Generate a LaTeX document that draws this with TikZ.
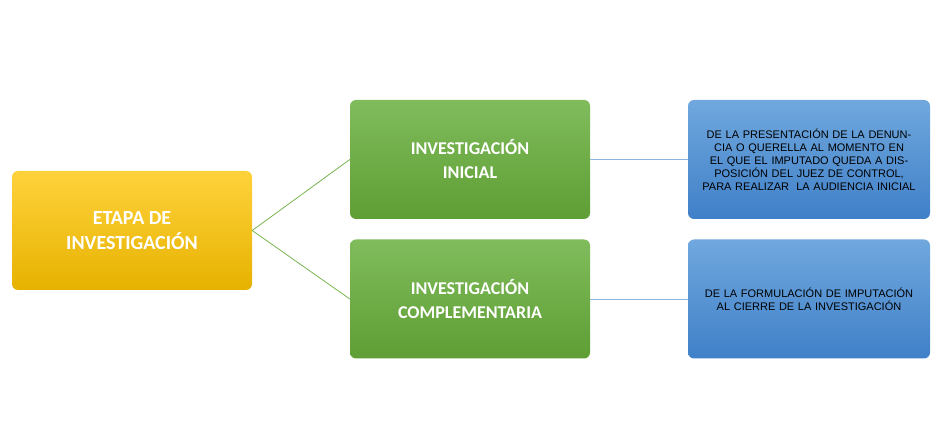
\documentclass[tikz,border=0pt]{standalone}
\usepackage{fontspec}
\setmainfont{Carlito}
\newfontfamily\arialf{Liberation Sans}
\definecolor{yt}{RGB}{255,210,60}
\definecolor{yb}{RGB}{230,178,0}
\definecolor{gt}{RGB}{128,188,92}
\definecolor{gb}{RGB}{94,158,52}
\definecolor{bt}{RGB}{112,168,222}
\definecolor{bb}{RGB}{64,128,200}
\definecolor{gl}{RGB}{120,180,80}
\definecolor{bl}{RGB}{140,180,225}
\begin{document}
\begin{tikzpicture}[x=1pt,y=1pt,
  box/.style={rounded corners=6pt,minimum width=240pt,minimum height=119pt,inner sep=4pt,align=center},
  ybox/.style={box,top color=yt,bottom color=yb,text=white,font=\bfseries\fontsize{20}{25}\selectfont},
  gbox/.style={box,top color=gt,bottom color=gb,text=white,font=\bfseries\fontsize{18}{24}\selectfont},
  bbox/.style={box,minimum width=242pt,top color=bt,bottom color=bb,text=black,text width=230pt,font=\arialf\fontsize{11}{13}\selectfont},
  gline/.style={draw=gl,line width=0.8pt},
  bline/.style={draw=bl,line width=0.8pt}]
\useasboundingbox (0,0) rectangle (947,427);
\node[ybox] (e) at (132,196.5) {ETAPA DE\\INVESTIGACIÓN};
\node[gbox] (g1) at (470,267.5) {INVESTIGACIÓN\\INICIAL};
\node[gbox] (g2) at (470,128) {INVESTIGACIÓN\\COMPLEMENTARIA};
\node[bbox] (b1) at (809,267.5) {DE LA PRESENTACIÓN DE LA DENUNCIA O QUERELLA AL MOMENTO EN EL QUE EL IMPUTADO QUEDA A DISPOSICIÓN DEL JUEZ DE CONTROL, PARA REALIZAR \ LA AUDIENCIA INICIAL};
\node[bbox] (b2) at (809,128) {DE LA FORMULACIÓN DE IMPUTACIÓN AL CIERRE DE LA INVESTIGACIÓN\\[26pt]};
\draw[gline] (e.east) -- (g1.west);
\draw[gline] (e.east) -- (g2.west);
\draw[bline] (g1.east) -- (b1.west);
\draw[bline] (g2.east) -- (b2.west);
\end{tikzpicture}
\end{document}
